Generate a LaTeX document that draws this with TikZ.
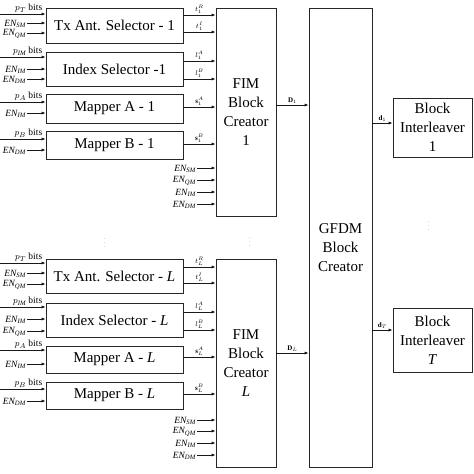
\documentclass[tikz,border=0pt]{standalone}
\usepackage{amsmath}
\usepackage{fontspec}
\setmainfont{Liberation Serif}
\usetikzlibrary{arrows.meta}
\begin{document}
\begin{tikzpicture}[x=1pt,y=-1pt,
  box/.style={draw=black!85, line width=0.9pt, inner sep=0pt, align=center, font=\fontsize{15}{19}\selectfont},
  lbox/.style={box, minimum width=137pt},
  arr/.style={-{Latex[length=4pt,width=3.2pt]}, line width=0.7pt, draw=black!90},
  inlab/.style={font=\fontsize{9.5}{10}\selectfont, inner sep=1pt},
  sig/.style={font=\fontsize{7}{8}\selectfont, inner sep=1pt},
  dots/.style={font=\fontsize{5}{5}\selectfont, inner sep=0pt, text=black!70}]
\useasboundingbox (0,0) rectangle (474,474);

% ---------- top group ----------
\node[lbox, minimum height=35pt] (tx1) at (114.5,25.5) {Tx Ant. Selector - 1};
\node[lbox, minimum height=34pt] (idx1) at (114.5,69) {Index Selector -1};
\node[lbox, minimum height=29pt] (ma1) at (114.5,108.5) {Mapper A - 1};
\node[lbox, minimum height=28pt] (mb1) at (114.5,145) {Mapper B - 1};
\node[box, minimum width=60pt, minimum height=208pt] (fim1) at (246,112) {FIM\\Block\\Creator\\1};

% ---------- bottom group ----------
\node[lbox, minimum height=34pt] (txL) at (114.5,276) {Tx Ant. Selector - \textit{L}};
\node[lbox, minimum height=34pt] (idxL) at (114.5,320) {Index Selector - \textit{L}};
\node[lbox, minimum height=27pt] (maL) at (114.5,359.5) {Mapper A - \textit{L}};
\node[lbox, minimum height=27pt] (mbL) at (114.5,395.5) {Mapper B - \textit{L}};
\node[box, minimum width=60pt, minimum height=208pt] (fimL) at (246,363) {FIM\\Block\\Creator\\\textit{L}};

% ---------- right part ----------
\node[box, minimum width=63pt, minimum height=459pt] (gfdm) at (340.5,237.5) {};
\node[font=\fontsize{15}{19}\selectfont, align=center, inner sep=0pt] (gfdmtext) at ([yshift=-10.5pt]gfdm.center) {GFDM\\Block\\Creator};
\node[box, minimum width=79pt, minimum height=59pt] (bi1) at (432.5,127.5) {Block\\Interleaver\\1};
\node[box, minimum width=79pt, minimum height=64pt] (biT) at (432.5,340) {Block\\Interleaver\\\textit{T}};

% ---------- left inputs, top ----------
\draw[arr] (0,14) -- (tx1.west |- 0,14) node[inlab, pos=1, anchor=south east, xshift=-2pt] {$p_T$ bits};
\draw[arr] (27,23) -- (tx1.west |- 0,23); \node[inlab, anchor=east] (l1) at (27,24) {$\mathit{EN}_{\mathit{SM}}$};
\draw[arr] (27,33) -- (tx1.west |- 0,33); \node[inlab, anchor=east] (l2) at (27,34) {$\mathit{EN}_{\mathit{QM}}$};
\draw[arr] (0,57) -- (idx1.west |- 0,57) node[inlab, pos=1, anchor=south east, xshift=-2pt] {$p_{\mathit{IM}}$ bits};
\draw[arr] (27,69) -- (idx1.west |- 0,69); \node[inlab, anchor=east] (l3) at (27,70) {$\mathit{EN}_{\mathit{IM}}$};
\draw[arr] (27,79) -- (idx1.west |- 0,79); \node[inlab, anchor=east] (l4) at (27,80) {$\mathit{EN}_{\mathit{DM}}$};
\draw[arr] (0,102) -- (ma1.west |- 0,102) node[inlab, pos=1, anchor=south east, xshift=-2pt] {$p_A$ bits};
\draw[arr] (27,113) -- (ma1.west |- 0,113); \node[inlab, anchor=east] (l5) at (27,114) {$\mathit{EN}_{\mathit{IM}}$};
\draw[arr] (0,139) -- (mb1.west |- 0,139) node[inlab, pos=1, anchor=south east, xshift=-2pt] {$p_B$ bits};
\draw[arr] (27,150) -- (mb1.west |- 0,150); \node[inlab, anchor=east] (l6) at (27,151) {$\mathit{EN}_{\mathit{DM}}$};

% ---------- left inputs, bottom ----------
\draw[arr] (0,263) -- (txL.west |- 0,263) node[inlab, pos=1, anchor=south east, xshift=-2pt] {$p_T$ bits};
\draw[arr] (27,273) -- (txL.west |- 0,273); \node[inlab, anchor=east] (m1) at (27,274) {$\mathit{EN}_{\mathit{SM}}$};
\draw[arr] (27,284) -- (txL.west |- 0,284); \node[inlab, anchor=east] (m2) at (27,285) {$\mathit{EN}_{\mathit{QM}}$};
\draw[arr] (0,307) -- (idxL.west |- 0,307) node[inlab, pos=1, anchor=south east, xshift=-2pt] {$p_{\mathit{IM}}$ bits};
\draw[arr] (27,319) -- (idxL.west |- 0,319); \node[inlab, anchor=east] (m3) at (27,320) {$\mathit{EN}_{\mathit{IM}}$};
\draw[arr] (27,331) -- (idxL.west |- 0,331); \node[inlab, anchor=east] (m4) at (27,332) {$\mathit{EN}_{\mathit{QM}}$};
\draw[arr] (0,350) -- (maL.west |- 0,350) node[inlab, pos=1, anchor=south east, xshift=-2pt] {$p_A$ bits};
\draw[arr] (27,364) -- (maL.west |- 0,364); \node[inlab, anchor=east] (m5) at (27,365) {$\mathit{EN}_{\mathit{IM}}$};
\draw[arr] (0,389) -- (mbL.west |- 0,389) node[inlab, pos=1, anchor=south east, xshift=-2pt] {$p_B$ bits};
\draw[arr] (27,401) -- (mbL.west |- 0,401); \node[inlab, anchor=east] (m6) at (27,402) {$\mathit{EN}_{\mathit{DM}}$};

% ---------- into FIM 1 ----------
\draw[arr] (tx1.east |- 0,15) -- (fim1.west |- 0,15) node[sig, midway, above] {$t_1^R$};
\draw[arr] (tx1.east |- 0,32) -- (fim1.west |- 0,32) node[sig, midway, above] {$t_1^I$};
\draw[arr] (idx1.east |- 0,61) -- (fim1.west |- 0,61) node[sig, midway, above] {$l_1^A$};
\draw[arr] (idx1.east |- 0,79) -- (fim1.west |- 0,79) node[sig, midway, above] {$l_1^B$};
\draw[arr] (ma1.east |- 0,107) -- (fim1.west |- 0,107) node[sig, midway, above] {$\mathbf{s}_1^A$};
\draw[arr] (mb1.east |- 0,144) -- (fim1.west |- 0,144) node[sig, midway, above] {$\mathbf{s}_1^B$};
\draw[arr] (197,168) -- (fim1.west |- 0,168); \node[inlab, anchor=east] (e1) at (197,169) {$\mathit{EN}_{\mathit{SM}}$};
\draw[arr] (197,180) -- (fim1.west |- 0,180); \node[inlab, anchor=east] (e2) at (197,181) {$\mathit{EN}_{\mathit{QM}}$};
\draw[arr] (197,192) -- (fim1.west |- 0,192); \node[inlab, anchor=east] (e3) at (197,193) {$\mathit{EN}_{\mathit{IM}}$};
\draw[arr] (197,204) -- (fim1.west |- 0,204); \node[inlab, anchor=east] (e4) at (197,205) {$\mathit{EN}_{\mathit{DM}}$};

% ---------- into FIM L ----------
\draw[arr] (txL.east |- 0,267) -- (fimL.west |- 0,267) node[sig, midway, above] {$t_L^R$};
\draw[arr] (txL.east |- 0,283) -- (fimL.west |- 0,283) node[sig, midway, above] {$t_L^I$};
\draw[arr] (idxL.east |- 0,312) -- (fimL.west |- 0,312) node[sig, midway, above] {$l_L^A$};
\draw[arr] (idxL.east |- 0,330) -- (fimL.west |- 0,330) node[sig, midway, above] {$l_L^B$};
\draw[arr] (maL.east |- 0,357) -- (fimL.west |- 0,357) node[sig, midway, above] {$\mathbf{s}_L^A$};
\draw[arr] (mbL.east |- 0,394) -- (fimL.west |- 0,394) node[sig, midway, above] {$\mathbf{s}_L^B$};
\draw[arr] (197,420) -- (fimL.west |- 0,420); \node[inlab, anchor=east] (f1) at (197,421) {$\mathit{EN}_{\mathit{SM}}$};
\draw[arr] (197,431) -- (fimL.west |- 0,431); \node[inlab, anchor=east] (f2) at (197,432) {$\mathit{EN}_{\mathit{QM}}$};
\draw[arr] (197,443) -- (fimL.west |- 0,443); \node[inlab, anchor=east] (f3) at (197,444) {$\mathit{EN}_{\mathit{IM}}$};
\draw[arr] (197,455) -- (fimL.west |- 0,455); \node[inlab, anchor=east] (f4) at (197,456) {$\mathit{EN}_{\mathit{DM}}$};

% ---------- FIM -> GFDM -> interleavers ----------
\draw[arr] (fim1.east |- 0,105) -- (gfdm.west |- 0,105) node[sig, midway, above] {$\mathbf{D}_1$};
\draw[arr] (fimL.east |- 0,353) -- (gfdm.west |- 0,353) node[sig, midway, above] {$\mathbf{D}_L$};
\draw[arr] (gfdm.east |- 0,123) -- (bi1.west |- 0,123) node[sig, midway, above] {$\mathbf{d}_1$};
\draw[arr] (gfdm.east |- 0,330) -- (biT.west |- 0,330) node[sig, midway, above] {$\mathbf{d}_T$};

% ---------- dots ----------
\node[dots] (d1) at (105,240) {$\vdots$};
\node[dots] (d2) at (250,239) {$\vdots$};
\node[dots] (d3) at (429,223) {$\vdots$};
\end{tikzpicture}
\end{document}
